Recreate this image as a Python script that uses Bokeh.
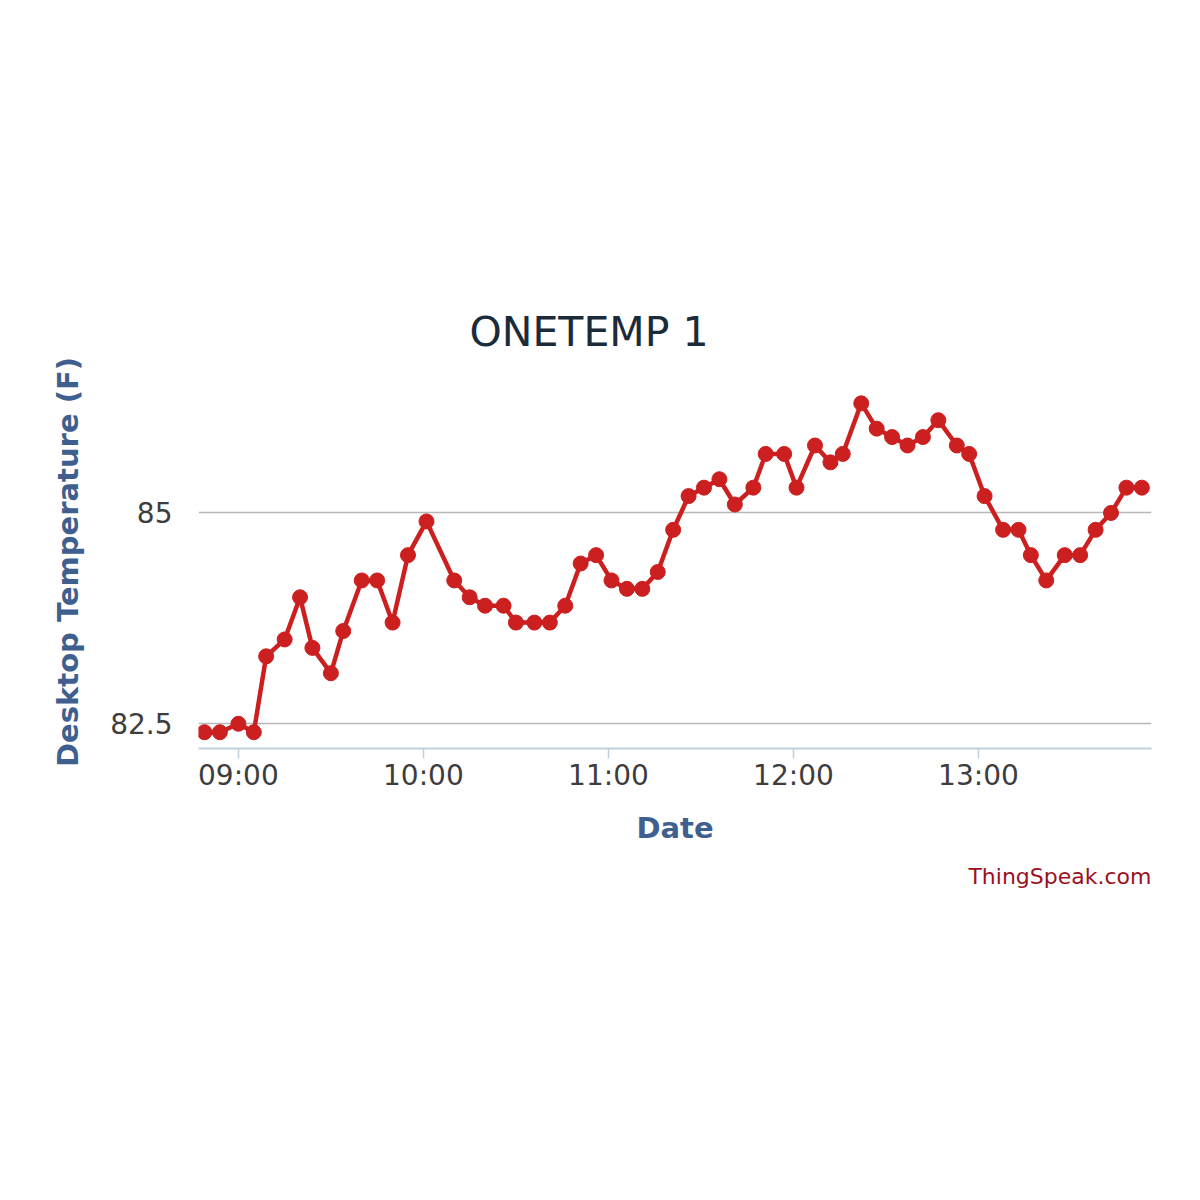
from bokeh.plotting import figure
from bokeh.models import Range1d, FixedTicker, Title, ColumnDataSource
from bokeh.embed import file_html
from bokeh.resources import INLINE

# ---- data ----
times = ["08:49", "08:54", "09:00", "09:05", "09:09", "09:15", "09:20", "09:24", "09:30", "09:34",
         "09:40", "09:45", "09:50", "09:55", "10:01", "10:10", "10:15", "10:20", "10:26", "10:30",
         "10:36", "10:41", "10:46", "10:51", "10:56", "11:01", "11:06", "11:11", "11:16", "11:21",
         "11:26", "11:31", "11:36", "11:41", "11:47", "11:51", "11:57", "12:01", "12:07", "12:12",
         "12:16", "12:22", "12:27", "12:32", "12:37", "12:42", "12:47", "12:53", "12:57", "13:02",
         "13:08", "13:13", "13:17", "13:22", "13:28", "13:33", "13:38", "13:43", "13:48", "13:53"]
temps = [82.4, 82.4, 82.5, 82.4, 83.3, 83.5, 84.0, 83.4, 83.1, 83.6,
         84.2, 84.2, 83.7, 84.5, 84.9, 84.2, 84.0, 83.9, 83.9, 83.7,
         83.7, 83.7, 83.9, 84.4, 84.5, 84.2, 84.1, 84.1, 84.3, 84.8,
         85.2, 85.3, 85.4, 85.1, 85.3, 85.7, 85.7, 85.3, 85.8, 85.6,
         85.7, 86.3, 86.0, 85.9, 85.8, 85.9, 86.1, 85.8, 85.7, 85.2,
         84.8, 84.8, 84.5, 84.2, 84.5, 84.5, 84.8, 85.0, 85.3, 85.3]
x_tick_labels = ["09:00", "10:00", "11:00", "12:00", "13:00"]
y_ticks = [82.5, 85]
title_text = "ONETEMP 1"
y_title = "Desktop Temperature (F)"
x_title = "Date"
credit_text = "ThingSpeak.com"


def to_min(s):
    h, m = s.split(":")
    return int(h) * 60 + int(m)


x = [to_min(t) for t in times]
x_ticks = [to_min(t) for t in x_tick_labels]

src = ColumnDataSource(dict(x=x, y=temps))

p = figure(width=1192, height=1192, output_backend="svg", toolbar_location=None,
           x_range=Range1d(527.06, 836.13), y_range=Range1d(82.207, 86.63),
           min_border_left=198, min_border_right=41, min_border_top=375, min_border_bottom=444)
p.outline_line_color = None
p.background_fill_color = "white"
p.border_fill_color = "white"

# title
p.title.text = title_text
p.title.align = "left"
p.title.offset = 271
p.title.text_font = "DejaVu Sans"
p.title.text_font_size = "41px"
p.title.text_font_style = "normal"
p.title.text_color = "#1c2b3a"
p.title.standoff = 40

# line + markers
red = "#cc1f1f"
p.line("x", "y", source=src, line_color=red, line_width=4.5)
p.scatter("x", "y", source=src, size=15, fill_color=red, line_color=red)

# x axis
xa = p.xaxis[0]
xa.ticker = FixedTicker(ticks=x_ticks)
xa.major_label_overrides = {t: l for t, l in zip(x_ticks, x_tick_labels)}
xa.minor_tick_line_color = None
xa.axis_line_color = "#c0d0e0"
xa.axis_line_width = 2
xa.major_tick_line_color = "#c0d0e0"
xa.major_tick_line_width = 1.5
xa.major_tick_out = 10
xa.major_tick_in = 0
xa.major_label_standoff = 0
xa.major_label_text_font = "DejaVu Sans"
xa.major_label_text_font_size = "28px"
xa.major_label_text_color = "#3d3d3d"
xa.axis_label = x_title
xa.axis_label_text_font = "DejaVu Sans"
xa.axis_label_text_font_style = "bold"
xa.axis_label_text_font_size = "29px"
xa.axis_label_text_color = "#3f5f8f"
xa.axis_label_standoff = 16

# y axis
ya = p.yaxis[0]
ya.ticker = FixedTicker(ticks=y_ticks)
ya.axis_line_color = None
ya.major_tick_line_color = None
ya.minor_tick_line_color = None
ya.major_tick_out = 0
ya.major_tick_in = 0
ya.major_label_standoff = 26
ya.major_label_text_font = "DejaVu Sans"
ya.major_label_text_font_size = "28px"
ya.major_label_text_color = "#3d3d3d"
ya.axis_label = y_title
ya.axis_label_text_font = "DejaVu Sans"
ya.axis_label_text_font_style = "bold"
ya.axis_label_text_font_size = "29px"
ya.axis_label_text_color = "#3f5f8f"
ya.axis_label_standoff = 22

# grid
p.xgrid.grid_line_color = None
p.ygrid.ticker = FixedTicker(ticks=y_ticks)
p.ygrid.grid_line_color = "#b8b8b8"
p.ygrid.grid_line_width = 1.5

# credit
credit = Title(text=credit_text, align="right", text_font="DejaVu Sans",
               text_font_size="22px", text_font_style="normal", text_color="#9b111e",
               standoff=28)
p.add_layout(credit, "below")

open("out.html", "w").write(file_html(p, INLINE))
